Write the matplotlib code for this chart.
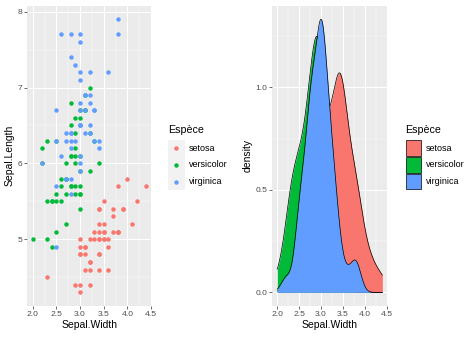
import numpy as np
import matplotlib
matplotlib.use("Agg")
import matplotlib.pyplot as plt
from matplotlib.patches import Rectangle
from matplotlib.lines import Line2D

plt.rcParams['font.family'] = ['Liberation Sans', 'DejaVu Sans']

species = ["setosa", "versicolor", "virginica"]
colors = ["#F8766D", "#00BA38", "#619CFF"]

sepal_length = {
    "setosa": [5.1, 4.9, 4.7, 4.6, 5.0, 5.4, 4.6, 5.0, 4.4, 4.9, 5.4, 4.8, 4.8, 4.3, 5.8, 5.7, 5.4,
               5.1, 5.7, 5.1, 5.4, 5.1, 4.6, 5.1, 4.8, 5.0, 5.0, 5.2, 5.2, 4.7, 4.8, 5.4, 5.2, 5.5,
               4.9, 5.0, 5.5, 4.9, 4.4, 5.1, 5.0, 4.5, 4.4, 5.0, 5.1, 4.8, 5.1, 4.6, 5.3, 5.0],
    "versicolor": [7.0, 6.4, 6.9, 5.5, 6.5, 5.7, 6.3, 4.9, 6.6, 5.2, 5.0, 5.9, 6.0, 6.1, 5.6, 6.7,
                   5.6, 5.8, 6.2, 5.6, 5.9, 6.1, 6.3, 6.1, 6.4, 6.6, 6.8, 6.7, 6.0, 5.7, 5.5, 5.5,
                   5.8, 6.0, 5.4, 6.0, 6.7, 6.3, 5.6, 5.5, 5.5, 6.1, 5.8, 5.0, 5.6, 5.7, 5.7, 6.2,
                   5.1, 5.7],
    "virginica": [6.3, 5.8, 7.1, 6.3, 6.5, 7.6, 4.9, 7.3, 6.7, 7.2, 6.5, 6.4, 6.8, 5.7, 5.8, 6.4,
                  6.5, 7.7, 7.7, 6.0, 6.9, 5.6, 7.7, 6.3, 6.7, 7.2, 6.2, 6.1, 6.4, 7.2, 7.4, 7.9,
                  6.4, 6.3, 6.1, 7.7, 6.3, 6.4, 6.0, 6.9, 6.7, 6.9, 5.8, 6.8, 6.7, 6.7, 6.3, 6.5,
                  6.2, 5.9],
}
sepal_width = {
    "setosa": [3.5, 3.0, 3.2, 3.1, 3.6, 3.9, 3.4, 3.4, 2.9, 3.1, 3.7, 3.4, 3.0, 3.0, 4.0, 4.4, 3.9,
               3.5, 3.8, 3.8, 3.4, 3.7, 3.6, 3.3, 3.4, 3.0, 3.4, 3.5, 3.4, 3.2, 3.1, 3.4, 4.1, 4.2,
               3.1, 3.2, 3.5, 3.6, 3.0, 3.4, 3.5, 2.3, 3.2, 3.5, 3.8, 3.0, 3.8, 3.2, 3.7, 3.3],
    "versicolor": [3.2, 3.2, 3.1, 2.3, 2.8, 2.8, 3.3, 2.4, 2.9, 2.7, 2.0, 3.0, 2.2, 2.9, 2.9, 3.1,
                   3.0, 2.7, 2.2, 2.5, 3.2, 2.8, 2.5, 2.8, 2.9, 3.0, 2.8, 3.0, 2.9, 2.6, 2.4, 2.4,
                   2.7, 2.7, 3.0, 3.4, 3.1, 2.3, 3.0, 2.5, 2.6, 3.0, 2.6, 2.3, 2.7, 3.0, 2.9, 2.9,
                   2.5, 2.8],
    "virginica": [3.3, 2.7, 3.0, 2.9, 3.0, 3.0, 2.5, 2.9, 2.5, 3.6, 3.2, 2.7, 3.0, 2.5, 2.8, 3.2,
                  3.0, 3.8, 2.6, 2.2, 3.2, 2.8, 2.8, 2.7, 3.3, 3.2, 2.8, 3.0, 2.8, 3.0, 2.8, 3.8,
                  2.8, 2.8, 2.6, 3.0, 3.4, 3.1, 3.0, 3.1, 3.1, 3.1, 2.7, 3.2, 3.3, 3.0, 2.5, 3.0,
                  3.4, 3.0],
}

x_ticks = [2.0, 2.5, 3.0, 3.5, 4.0, 4.5]
x_tick_labels = ["2.0", "2.5", "3.0", "3.5", "4.0", "4.5"]
y_ticks_left = [5, 6, 7, 8]
y_ticks_right = [0.0, 0.5, 1.0]
y_tick_labels_right = ["0.0", "0.5", "1.0"]
legend_title = "Espèce"

W, H = 474, 338
fig = plt.figure(figsize=(W / 100, H / 100), dpi=100)

PANEL = "#EBEBEB"
TICK_FS = 6.1
TITLE_FS = 7.5
LEG_TITLE_FS = 7.7
LEG_FS = 6.5
POINT_MS = 3.2


def px_axes(x0, y0, x1, y1):
    return fig.add_axes([x0 / W, 1 - y1 / H, (x1 - x0) / W, (y1 - y0) / H])


def fx(x):
    return x / W


def fy(y):
    return 1 - y / H


def gg_style(ax, xmin, xmax, ymin, ymax, xmaj, ymaj):
    ax.set_facecolor(PANEL)
    for s in ax.spines.values():
        s.set_visible(False)
    xr = xmax - xmin
    yr = ymax - ymin
    ax.set_xticks(xmaj)
    ax.set_yticks(ymaj)
    dx = xmaj[1] - xmaj[0]
    dy = ymaj[1] - ymaj[0]
    ax.set_xticks(np.arange(xmaj[0] - dx / 2, xmaj[-1] + dx, dx), minor=True)
    ax.set_yticks(np.arange(ymaj[0] - dy / 2, ymaj[-1] + dy, dy), minor=True)
    ax.grid(which="major", color="white", lw=0.75)
    ax.grid(which="minor", color="white", lw=0.35)
    ax.set_axisbelow(True)
    ax.tick_params(which="major", length=2.0, width=0.5, color="#333333",
                   labelsize=TICK_FS, labelcolor="#4D4D4D", pad=1.5)
    ax.tick_params(which="minor", length=0)
    ax.set_xlim(xmin - 0.05 * xr, xmax + 0.05 * xr)
    ax.set_ylim(ymin - 0.05 * yr, ymax + 0.05 * yr)


# Scatter: Sepal.Width vs Sepal.Length
all_w = np.concatenate([sepal_width[s] for s in species])
all_l = np.concatenate([sepal_length[s] for s in species])

ax1 = px_axes(27, 5.6, 152, 306)
for sp, c in zip(species, colors):
    ax1.scatter(sepal_width[sp], sepal_length[sp], s=POINT_MS ** 2, color=c, linewidths=0,
                zorder=3)
gg_style(ax1, all_w.min(), all_w.max(), all_l.min(), all_l.max(), x_ticks, y_ticks_left)
ax1.set_xticklabels(x_tick_labels)
ax1.set_xlabel("Sepal.Width", fontsize=TITLE_FS, labelpad=1.5)
ax1.set_ylabel("Sepal.Length", fontsize=TITLE_FS, labelpad=2)


# Density of Sepal.Width per species (Gaussian kernel, bw.nrd0)
def bw_nrd0(x):
    x = np.asarray(x, float)
    sd = x.std(ddof=1)
    iqr = np.subtract(*np.percentile(x, [75, 25]))
    lo = min(sd, iqr / 1.34)
    return 0.9 * lo * len(x) ** -0.2


grid = np.linspace(all_w.min(), all_w.max(), 512)
dens = {}
for sp in species:
    x = np.asarray(sepal_width[sp], float)
    h = bw_nrd0(x)
    z = (grid[:, None] - x[None, :]) / h
    dens[sp] = np.exp(-0.5 * z ** 2).sum(axis=1) / (len(x) * h * np.sqrt(2 * np.pi))

ax2 = px_axes(272, 5.6, 387.6, 306)
for i, (sp, c) in enumerate(zip(species, colors)):
    ax2.fill_between(grid, 0, dens[sp], color=c, lw=0, zorder=3 + 2 * i)
    ax2.plot(grid, dens[sp], color="black", lw=0.5, zorder=4 + 2 * i)
dmax = max(d.max() for d in dens.values())
gg_style(ax2, all_w.min(), all_w.max(), 0, dmax, x_ticks, y_ticks_right)
ax2.set_xticklabels(x_tick_labels)
ax2.set_yticklabels(y_tick_labels_right)
ax2.set_xlabel("Sepal.Width", fontsize=TITLE_FS, labelpad=1.5)
ax2.set_ylabel("density", fontsize=TITLE_FS, labelpad=2)

# Legends, laid out in figure pixels
key = 16.6
row_centers = [148.2, 164.9, 181.6]


def draw_legend(x0, kind):
    fig.text(fx(x0), fy(130), legend_title, fontsize=LEG_TITLE_FS, color="black",
             ha="left", va="center")
    for sp, c, yc in zip(species, colors, row_centers):
        if kind == "point":
            fig.add_artist(Rectangle((fx(x0), fy(yc + key / 2)), key / W, key / H,
                                     transform=fig.transFigure, facecolor="#F2F2F2",
                                     edgecolor="none"))
            fig.add_artist(Line2D([fx(x0 + key / 2)], [fy(yc)], transform=fig.transFigure,
                                  ls="none", marker="o", ms=POINT_MS, mew=0, color=c))
        else:
            fig.add_artist(Rectangle((fx(x0 + 0.5), fy(yc + key / 2 - 0.5)), (key - 1) / W,
                                     (key - 1) / H, transform=fig.transFigure,
                                     facecolor=c, edgecolor="black", lw=0.5))
        fig.text(fx(x0 + key + 4), fy(yc), sp, fontsize=LEG_FS, color="black",
                 ha="left", va="center")


draw_legend(168, "point")
draw_legend(405, "box")

fig.savefig("out.png", dpi=100)
